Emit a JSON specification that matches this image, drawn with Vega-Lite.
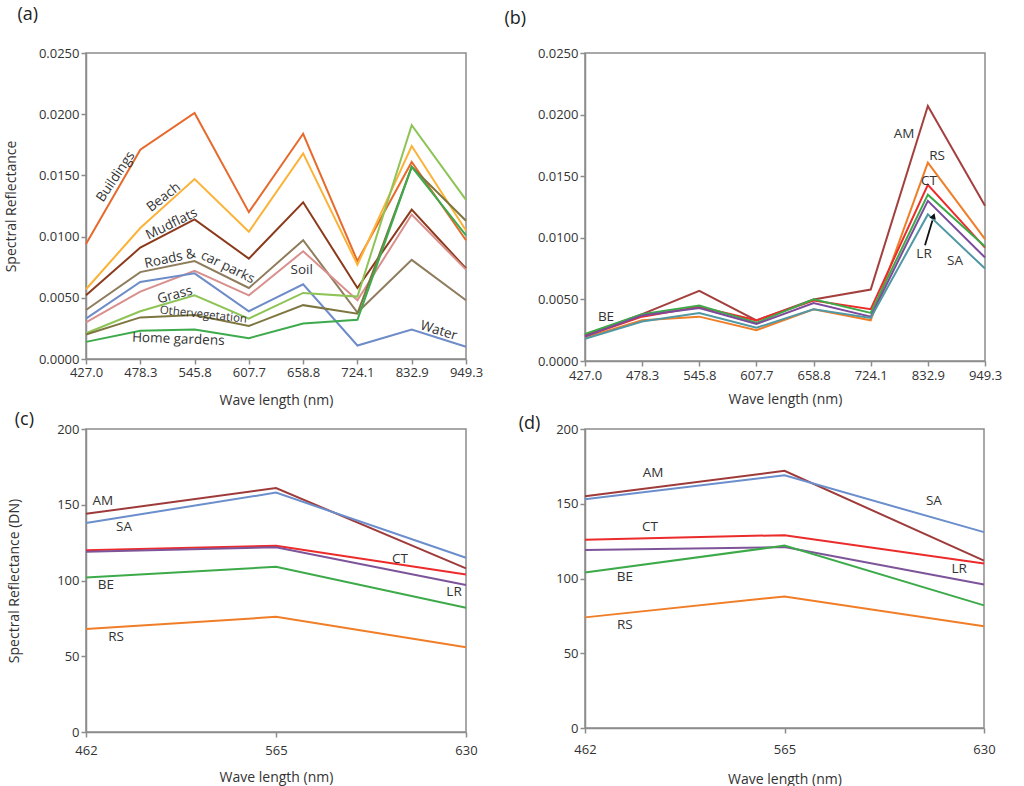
{
  "$schema": "https://vega.github.io/schema/vega-lite/v6.json",
  "padding": {"left": 3, "top": 5, "right": 5, "bottom": 5},
  "background": "white",
  "config": {
    "view": {"stroke": "#8c8c8c", "strokeWidth": 1.5},
    "font": "Open Sans",
    "axis": {"grid": false, "domainColor": "#8c8c8c", "domainWidth": 1.5, "tickColor": "#8c8c8c", "tickWidth": 1.5, "tickSize": 5, "labelFont": "Open Sans", "labelFontSize": 13, "labelColor": "#333333", "titleFont": "Open Sans", "titleFontSize": 14, "titleFontWeight": "normal", "titleColor": "#333333", "labelFlush": false, "labelOverlap": false},
    "title": {"font": "Open Sans", "fontSize": 18, "fontWeight": "normal", "color": "#222222", "anchor": "start", "frame": "bounds", "baseline": "bottom"},
    "text": {"font": "Open Sans", "fontSize": 13.5, "color": "#333333"},
    "line": {"strokeWidth": 2}
  },
  "datasets": {
    "a": [
      {"s":"Buildings","i":0,"nm":"427.0","v":0.0094},{"s":"Buildings","i":1,"nm":"478.3","v":0.0171},{"s":"Buildings","i":2,"nm":"545.8","v":0.0201},{"s":"Buildings","i":3,"nm":"607.7","v":0.0120},{"s":"Buildings","i":4,"nm":"658.8","v":0.0184},{"s":"Buildings","i":5,"nm":"724.1","v":0.0080},{"s":"Buildings","i":6,"nm":"832.9","v":0.0161},{"s":"Buildings","i":7,"nm":"949.3","v":0.0097},
      {"s":"Beach","i":0,"nm":"427.0","v":0.0057},{"s":"Beach","i":1,"nm":"478.3","v":0.0107},{"s":"Beach","i":2,"nm":"545.8","v":0.0147},{"s":"Beach","i":3,"nm":"607.7","v":0.0104},{"s":"Beach","i":4,"nm":"658.8","v":0.0168},{"s":"Beach","i":5,"nm":"724.1","v":0.0077},{"s":"Beach","i":6,"nm":"832.9","v":0.0174},{"s":"Beach","i":7,"nm":"949.3","v":0.0105},
      {"s":"Mudflats","i":0,"nm":"427.0","v":0.0052},{"s":"Mudflats","i":1,"nm":"478.3","v":0.0091},{"s":"Mudflats","i":2,"nm":"545.8","v":0.0114},{"s":"Mudflats","i":3,"nm":"607.7","v":0.0082},{"s":"Mudflats","i":4,"nm":"658.8","v":0.0128},{"s":"Mudflats","i":5,"nm":"724.1","v":0.0058},{"s":"Mudflats","i":6,"nm":"832.9","v":0.0122},{"s":"Mudflats","i":7,"nm":"949.3","v":0.0074},
      {"s":"Roads & car parks","i":0,"nm":"427.0","v":0.0040},{"s":"Roads & car parks","i":1,"nm":"478.3","v":0.0071},{"s":"Roads & car parks","i":2,"nm":"545.8","v":0.0080},{"s":"Roads & car parks","i":3,"nm":"607.7","v":0.0058},{"s":"Roads & car parks","i":4,"nm":"658.8","v":0.0097},{"s":"Roads & car parks","i":5,"nm":"724.1","v":0.0038},{"s":"Roads & car parks","i":6,"nm":"832.9","v":0.0081},{"s":"Roads & car parks","i":7,"nm":"949.3","v":0.0048},
      {"s":"Soil","i":0,"nm":"427.0","v":0.0030},{"s":"Soil","i":1,"nm":"478.3","v":0.0055},{"s":"Soil","i":2,"nm":"545.8","v":0.0072},{"s":"Soil","i":3,"nm":"607.7","v":0.0052},{"s":"Soil","i":4,"nm":"658.8","v":0.0088},{"s":"Soil","i":5,"nm":"724.1","v":0.0048},{"s":"Soil","i":6,"nm":"832.9","v":0.0118},{"s":"Soil","i":7,"nm":"949.3","v":0.0073},
      {"s":"Water","i":0,"nm":"427.0","v":0.0033},{"s":"Water","i":1,"nm":"478.3","v":0.0063},{"s":"Water","i":2,"nm":"545.8","v":0.0070},{"s":"Water","i":3,"nm":"607.7","v":0.0039},{"s":"Water","i":4,"nm":"658.8","v":0.0061},{"s":"Water","i":5,"nm":"724.1","v":0.0011},{"s":"Water","i":6,"nm":"832.9","v":0.0024},{"s":"Water","i":7,"nm":"949.3","v":0.0010},
      {"s":"Grass","i":0,"nm":"427.0","v":0.0021},{"s":"Grass","i":1,"nm":"478.3","v":0.0039},{"s":"Grass","i":2,"nm":"545.8","v":0.0052},{"s":"Grass","i":3,"nm":"607.7","v":0.0033},{"s":"Grass","i":4,"nm":"658.8","v":0.0054},{"s":"Grass","i":5,"nm":"724.1","v":0.0051},{"s":"Grass","i":6,"nm":"832.9","v":0.0191},{"s":"Grass","i":7,"nm":"949.3","v":0.0130},
      {"s":"Other vegetation","i":0,"nm":"427.0","v":0.0020},{"s":"Other vegetation","i":1,"nm":"478.3","v":0.0034},{"s":"Other vegetation","i":2,"nm":"545.8","v":0.0036},{"s":"Other vegetation","i":3,"nm":"607.7","v":0.0027},{"s":"Other vegetation","i":4,"nm":"658.8","v":0.0044},{"s":"Other vegetation","i":5,"nm":"724.1","v":0.0037},{"s":"Other vegetation","i":6,"nm":"832.9","v":0.0157},{"s":"Other vegetation","i":7,"nm":"949.3","v":0.0113},
      {"s":"Home gardens","i":0,"nm":"427.0","v":0.0014},{"s":"Home gardens","i":1,"nm":"478.3","v":0.0023},{"s":"Home gardens","i":2,"nm":"545.8","v":0.0024},{"s":"Home gardens","i":3,"nm":"607.7","v":0.0017},{"s":"Home gardens","i":4,"nm":"658.8","v":0.0029},{"s":"Home gardens","i":5,"nm":"724.1","v":0.0032},{"s":"Home gardens","i":6,"nm":"832.9","v":0.0157},{"s":"Home gardens","i":7,"nm":"949.3","v":0.0101}
    ],
    "b": [
      {"s":"AM","i":0,"nm":"427.0","v":0.0021},{"s":"AM","i":1,"nm":"478.3","v":0.0038},{"s":"AM","i":2,"nm":"545.8","v":0.0057},{"s":"AM","i":3,"nm":"607.7","v":0.0033},{"s":"AM","i":4,"nm":"658.8","v":0.0050},{"s":"AM","i":5,"nm":"724.1","v":0.0058},{"s":"AM","i":6,"nm":"832.9","v":0.0207},{"s":"AM","i":7,"nm":"949.3","v":0.0126},
      {"s":"RS","i":0,"nm":"427.0","v":0.0019},{"s":"RS","i":1,"nm":"478.3","v":0.0033},{"s":"RS","i":2,"nm":"545.8","v":0.0036},{"s":"RS","i":3,"nm":"607.7","v":0.0025},{"s":"RS","i":4,"nm":"658.8","v":0.0042},{"s":"RS","i":5,"nm":"724.1","v":0.0033},{"s":"RS","i":6,"nm":"832.9","v":0.0161},{"s":"RS","i":7,"nm":"949.3","v":0.0099},
      {"s":"CT","i":0,"nm":"427.0","v":0.0020},{"s":"CT","i":1,"nm":"478.3","v":0.0036},{"s":"CT","i":2,"nm":"545.8","v":0.0044},{"s":"CT","i":3,"nm":"607.7","v":0.0033},{"s":"CT","i":4,"nm":"658.8","v":0.0049},{"s":"CT","i":5,"nm":"724.1","v":0.0042},{"s":"CT","i":6,"nm":"832.9","v":0.0143},{"s":"CT","i":7,"nm":"949.3","v":0.0092},
      {"s":"BE","i":0,"nm":"427.0","v":0.0022},{"s":"BE","i":1,"nm":"478.3","v":0.0038},{"s":"BE","i":2,"nm":"545.8","v":0.0045},{"s":"BE","i":3,"nm":"607.7","v":0.0031},{"s":"BE","i":4,"nm":"658.8","v":0.0050},{"s":"BE","i":5,"nm":"724.1","v":0.0039},{"s":"BE","i":6,"nm":"832.9","v":0.0135},{"s":"BE","i":7,"nm":"949.3","v":0.0093},
      {"s":"LR","i":0,"nm":"427.0","v":0.0020},{"s":"LR","i":1,"nm":"478.3","v":0.0037},{"s":"LR","i":2,"nm":"545.8","v":0.0043},{"s":"LR","i":3,"nm":"607.7","v":0.0030},{"s":"LR","i":4,"nm":"658.8","v":0.0047},{"s":"LR","i":5,"nm":"724.1","v":0.0036},{"s":"LR","i":6,"nm":"832.9","v":0.0130},{"s":"LR","i":7,"nm":"949.3","v":0.0084},
      {"s":"SA","i":0,"nm":"427.0","v":0.0018},{"s":"SA","i":1,"nm":"478.3","v":0.0032},{"s":"SA","i":2,"nm":"545.8","v":0.0039},{"s":"SA","i":3,"nm":"607.7","v":0.0027},{"s":"SA","i":4,"nm":"658.8","v":0.0042},{"s":"SA","i":5,"nm":"724.1","v":0.0035},{"s":"SA","i":6,"nm":"832.9","v":0.0119},{"s":"SA","i":7,"nm":"949.3","v":0.0075}
    ],
    "c": [
      {"s":"AM","i":0,"nm":"462","v":144},{"s":"AM","i":1,"nm":"565","v":161},{"s":"AM","i":2,"nm":"630","v":108},
      {"s":"SA","i":0,"nm":"462","v":138},{"s":"SA","i":1,"nm":"565","v":158},{"s":"SA","i":2,"nm":"630","v":115},
      {"s":"CT","i":0,"nm":"462","v":120},{"s":"CT","i":1,"nm":"565","v":123},{"s":"CT","i":2,"nm":"630","v":104},
      {"s":"LR","i":0,"nm":"462","v":119},{"s":"LR","i":1,"nm":"565","v":122},{"s":"LR","i":2,"nm":"630","v":97},
      {"s":"BE","i":0,"nm":"462","v":102},{"s":"BE","i":1,"nm":"565","v":109},{"s":"BE","i":2,"nm":"630","v":82},
      {"s":"RS","i":0,"nm":"462","v":68},{"s":"RS","i":1,"nm":"565","v":76},{"s":"RS","i":2,"nm":"630","v":56}
    ],
    "d": [
      {"s":"AM","i":0,"nm":"462","v":155},{"s":"AM","i":1,"nm":"565","v":172},{"s":"AM","i":2,"nm":"630","v":112},
      {"s":"SA","i":0,"nm":"462","v":153},{"s":"SA","i":1,"nm":"565","v":169},{"s":"SA","i":2,"nm":"630","v":131},
      {"s":"CT","i":0,"nm":"462","v":126},{"s":"CT","i":1,"nm":"565","v":129},{"s":"CT","i":2,"nm":"630","v":110},
      {"s":"LR","i":0,"nm":"462","v":119},{"s":"LR","i":1,"nm":"565","v":121},{"s":"LR","i":2,"nm":"630","v":96},
      {"s":"BE","i":0,"nm":"462","v":104},{"s":"BE","i":1,"nm":"565","v":122},{"s":"BE","i":2,"nm":"630","v":82},
      {"s":"RS","i":0,"nm":"462","v":74},{"s":"RS","i":1,"nm":"565","v":88},{"s":"RS","i":2,"nm":"630","v":68}
    ]
  },
  "columns": 2,
  "spacing": {"row": 68, "column": 119},
  "bounds": "flush",
  "resolve": {"scale": {"color": "independent", "x": "independent", "y": "independent"}},
  "concat": [
    {
      "width": 380, "height": 306,
      "title": {"text": "(a)", "dx": 13, "offset": 23},
      "encoding": {
        "x": {"field": "i", "type": "quantitative", "scale": {"domain": [0, 7], "nice": false, "zero": false},
              "axis": {"values": [0,1,2,3,4,5,6,7], "labelExpr": "['427.0','478.3','545.8','607.7','658.8','724.1','832.9','949.3'][datum.value]", "title": "Wave length (nm)", "labelPadding": 2, "titlePadding": 14}},
        "y": {"field": "v", "type": "quantitative", "scale": {"domain": [0, 0.025], "nice": false},
              "axis": {"values": [0,0.005,0.01,0.015,0.02,0.025], "format": ".4f", "title": "Spectral Reflectance", "labelPadding": 2, "titlePadding": 20}}
      },
      "layer": [
        {"data": {"name": "a"}, "mark": {"type": "line"},
         "encoding": {"color": {"field": "s", "type": "nominal", "legend": null,
           "scale": {"domain": ["Buildings","Beach","Mudflats","Roads & car parks","Soil","Water","Grass","Other vegetation","Home gardens"],
                     "range": ["#E66A2C","#FBB236","#8B3A1C","#8E7C5C","#D98F8D","#6E8CC8","#8DC455","#7E7640","#3DAA4C"]}}}},
        {"data": {"values": [{"t": "Buildings", "i": 0.547, "v": 0.01489}]}, "mark": {"type": "text", "angle": -56}, "encoding": {"text": {"field": "t"}}},
        {"data": {"values": [{"t": "Beach", "i": 1.431, "v": 0.01321}]}, "mark": {"type": "text", "angle": -38}, "encoding": {"text": {"field": "t"}}},
        {"data": {"values": [{"t": "Mudflats", "i": 1.579, "v": 0.01103}]}, "mark": {"type": "text", "angle": -26}, "encoding": {"text": {"field": "t"}}},
        {"data": {"values": [{"t": "Roads &", "i": 1.55, "v": 0.00820}]}, "mark": {"type": "text", "angle": -12}, "encoding": {"text": {"field": "t"}}},
        {"data": {"values": [{"t": "car parks", "i": 2.61, "v": 0.00750}]}, "mark": {"type": "text", "angle": 26}, "encoding": {"text": {"field": "t"}}},
        {"data": {"values": [{"t": "Soil", "i": 3.973, "v": 0.00727}]}, "mark": {"type": "text", "angle": 0}, "encoding": {"text": {"field": "t"}}},
        {"data": {"values": [{"t": "Grass", "i": 1.639, "v": 0.00523}]}, "mark": {"type": "text", "angle": -15}, "encoding": {"text": {"field": "t"}}},
        {"data": {"values": [{"t": "Othervegetation", "i": 2.161, "v": 0.00359}]}, "mark": {"type": "text", "angle": 6, "fontSize": 11.5}, "encoding": {"text": {"field": "t"}}},
        {"data": {"values": [{"t": "Home gardens", "i": 1.70, "v": 0.00161}]}, "mark": {"type": "text", "angle": 2}, "encoding": {"text": {"field": "t"}}},
        {"data": {"values": [{"t": "Water", "i": 6.497, "v": 0.00231}]}, "mark": {"type": "text", "angle": 17}, "encoding": {"text": {"field": "t"}}}
      ]
    },
    {
      "width": 400, "height": 308,
      "title": {"text": "(b)", "dx": -33, "offset": 19},
      "encoding": {
        "x": {"field": "i", "type": "quantitative", "scale": {"domain": [0, 7], "nice": false, "zero": false},
              "axis": {"values": [0,1,2,3,4,5,6,7], "labelExpr": "['427.0','478.3','545.8','607.7','658.8','724.1','832.9','949.3'][datum.value]", "title": "Wave length (nm)", "labelPadding": 3, "titlePadding": 10}},
        "y": {"field": "v", "type": "quantitative", "scale": {"domain": [0, 0.025], "nice": false},
              "axis": {"values": [0,0.005,0.01,0.015,0.02,0.025], "format": ".4f", "title": null, "labelPadding": 2}}
      },
      "layer": [
        {"data": {"name": "b"}, "mark": {"type": "line"},
         "encoding": {"color": {"field": "s", "type": "nominal", "legend": null,
           "scale": {"domain": ["AM","RS","CT","BE","LR","SA"], "range": ["#A3403E","#F07E28","#EC2B2B","#3DAA4A","#7B4A9C","#4F98A4"]}}}},
        {"data": {"values": [{"t": "AM", "i": 5.583, "v": 0.01843}, {"t": "RS", "i": 6.16, "v": 0.01664}, {"t": "CT", "i": 6.02, "v": 0.01461}, {"t": "LR", "i": 5.933, "v": 0.00869}, {"t": "SA", "i": 6.475, "v": 0.00812}, {"t": "BE", "i": 0.3675, "v": 0.00357}]},
         "mark": {"type": "text"}, "encoding": {"text": {"field": "t"}}},
        {"data": {"values": [{"i": 5.95, "v": 0.0094, "i2": 6.08, "v2": 0.0114}]},
         "mark": {"type": "rule", "strokeWidth": 1.8, "color": "#111111"},
         "encoding": {"x2": {"field": "i2"}, "y2": {"field": "v2"}}},
        {"data": {"values": [{"i": 6.1, "v": 0.01177}]},
         "mark": {"type": "point", "shape": "triangle-up", "filled": true, "size": 45, "angle": 19, "color": "#111111", "opacity": 1}, "encoding": {}}
      ]
    },
    {
      "width": 380, "height": 303,
      "title": {"text": "(c)", "dx": 7, "offset": -6},
      "encoding": {
        "x": {"field": "i", "type": "quantitative", "scale": {"domain": [0, 2], "nice": false, "zero": false},
              "axis": {"values": [0,1,2], "labelExpr": "['462','565','630'][datum.value]", "title": "Wave length (nm)", "labelPadding": 7, "titlePadding": 13}},
        "y": {"field": "v", "type": "quantitative", "scale": {"domain": [0, 200], "nice": false},
              "axis": {"values": [0,50,100,150,200], "title": "Spectral Reflectance (DN)", "labelPadding": 2, "titlePadding": 35}}
      },
      "layer": [
        {"data": {"name": "c"}, "mark": {"type": "line"},
         "encoding": {"color": {"field": "s", "type": "nominal", "legend": null,
           "scale": {"domain": ["AM","SA","CT","LR","BE","RS"], "range": ["#9E3B3A","#6B8ECC","#EC2B2B","#7D5499","#3DAA4A","#F07E28"]}}}},
        {"data": {"values": [{"t": "AM", "i": 0.089, "v": 152.5}, {"t": "SA", "i": 0.2, "v": 135.3}, {"t": "BE", "i": 0.105, "v": 97}, {"t": "RS", "i": 0.158, "v": 62.7}, {"t": "CT", "i": 1.653, "v": 114.2}, {"t": "LR", "i": 1.937, "v": 92.4}]},
         "mark": {"type": "text"}, "encoding": {"text": {"field": "t"}}}
      ]
    },
    {
      "width": 399, "height": 299,
      "title": {"text": "(d)", "dx": -37, "offset": -10},
      "encoding": {
        "x": {"field": "i", "type": "quantitative", "scale": {"domain": [0, 2], "nice": false, "zero": false},
              "axis": {"values": [0,1,2], "labelExpr": "['462','565','630'][datum.value]", "title": "Wave length (nm)", "labelPadding": 10, "titlePadding": 16}},
        "y": {"field": "v", "type": "quantitative", "scale": {"domain": [0, 200], "nice": false},
              "axis": {"values": [0,50,100,150,200], "title": null, "labelPadding": 2}}
      },
      "layer": [
        {"data": {"name": "d"}, "mark": {"type": "line"},
         "encoding": {"color": {"field": "s", "type": "nominal", "legend": null,
           "scale": {"domain": ["AM","SA","CT","LR","BE","RS"], "range": ["#9E3B3A","#6B8ECC","#EC2B2B","#7D5499","#3DAA4A","#F07E28"]}}}},
        {"data": {"values": [{"t": "AM", "i": 0.341, "v": 170.6}, {"t": "SA", "i": 1.749, "v": 151.8}, {"t": "CT", "i": 0.326, "v": 134.4}, {"t": "BE", "i": 0.2, "v": 101}, {"t": "RS", "i": 0.2, "v": 68.9}, {"t": "LR", "i": 1.875, "v": 106.4}]},
         "mark": {"type": "text"}, "encoding": {"text": {"field": "t"}}}
      ]
    }
  ]
}
